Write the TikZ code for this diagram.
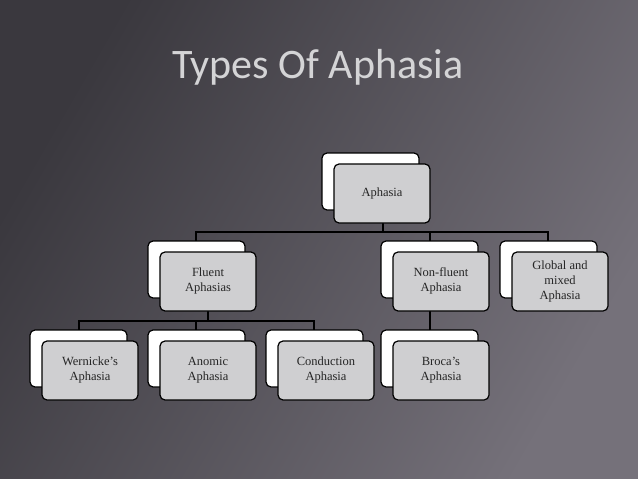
\documentclass[tikz,border=0pt]{standalone}
\usepackage{fontspec}
\setmainfont{Liberation Serif}
\newfontfamily\titlefont{Carlito}
\usetikzlibrary{shadings}
\definecolor{bgA}{HTML}{3A383E}
\definecolor{bgB}{HTML}{75717A}
\definecolor{frontc}{HTML}{CFCFD1}
\definecolor{titlec}{HTML}{D4D4D6}
\tikzset{
  back/.style={draw=black,line width=1.2pt,fill=white,rounded corners=5pt},
  front/.style={draw=black,line width=1.2pt,fill=frontc,rounded corners=5pt},
  lbl/.style={font=\fontsize{12.5}{15}\selectfont,align=center,text=black!85},
  conn/.style={draw=black,line width=1.2pt}
}
\newcommand{\twobox}[4]{% name, x, y(top of back), text
  \path[back] (#2,#3) rectangle ++(97,57);
  \path[front] (#2+12,#3+11) rectangle ++(96,59);
  \node[lbl] (#1) at (#2+60,#3+40) {#4};
}
\begin{document}
\begin{tikzpicture}[x=1pt,y=-1pt]
\shade[left color=bgA,right color=bgB,shading angle=60] (0,0) rectangle (638,479);
\useasboundingbox (0,0) rectangle (638,479);
\node[font=\titlefont\fontsize{42}{46}\selectfont,text=titlec] (title) at (318,67) {Types Of Aphasia};
\draw[conn] (383,222) -- (383,232);
\draw[conn] (196,241) -- (196,232) -- (548,232) -- (548,241);
\draw[conn] (430,232) -- (430,241);
\draw[conn] (208,311) -- (208,321);
\draw[conn] (79,330) -- (79,321) -- (314,321) -- (314,330);
\draw[conn] (196,321) -- (196,330);
\draw[conn] (430,311) -- (430,330);
\twobox{aph}{322}{153}{Aphasia}
\twobox{flu}{148}{241}{Fluent\\Aphasias}
\twobox{non}{381}{241}{Non-fluent\\Aphasia}
\twobox{glo}{500}{241}{Global and\\mixed\\Aphasia}
\twobox{wer}{30}{330}{Wernicke’s\\Aphasia}
\twobox{ano}{148}{330}{Anomic\\Aphasia}
\twobox{con}{266}{330}{Conduction\\Aphasia}
\twobox{bro}{381}{330}{Broca’s\\Aphasia}
\end{tikzpicture}
\end{document}
